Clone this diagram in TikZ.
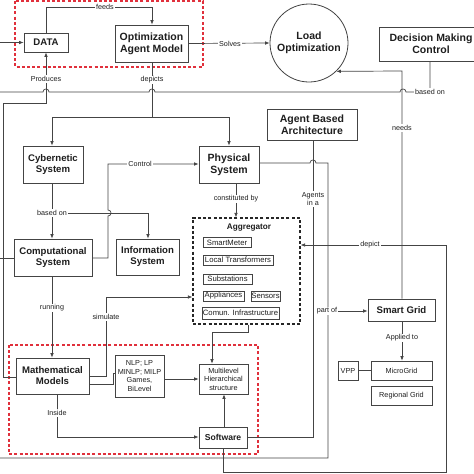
\documentclass[tikz,border=0pt]{standalone}
\usepackage{fontspec}
\setmainfont{Liberation Sans}
\usetikzlibrary{arrows.meta}
\definecolor{ln}{HTML}{444444}
\definecolor{tx}{HTML}{1E1E1E}
\definecolor{rd}{HTML}{E0303C}
\tikzset{
  bbox/.style={draw=ln, line width=0.8pt, fill=white, align=center, inner sep=0pt, text=tx,
    font=\bfseries\fontsize{9.6}{11}\selectfont},
  bigbox/.style={bbox, font=\bfseries\fontsize{10.5}{12}\selectfont},
  sbox/.style={draw=ln, line width=0.6pt, fill=white, align=center, inner sep=0pt, text=tx,
    font=\fontsize{7.3}{8.6}\selectfont},
  ibox/.style={draw=ln, line width=0.6pt, fill=white, inner sep=0pt, text=tx,
    font=\fontsize{7.7}{8.6}\selectfont, minimum height=10},
  conn/.style={draw=ln, line width=0.7pt},
  arr/.style={conn, -{Latex[length=4.5pt,width=3.6pt]}},
  lbl/.style={fill=white, inner sep=1pt, text=tx, align=center,
    font=\fontsize{7.2}{7.6}\selectfont},
  reddash/.style={draw=rd, line width=1.1pt, dash pattern=on 3pt off 2.2pt},
  aggdash/.style={draw=black!85, line width=1.1pt, dash pattern=on 3pt off 2.2pt},
}
\begin{document}
\begin{tikzpicture}[x=1pt,y=-1pt]
\useasboundingbox (0,0) rectangle (474,474);
\fill[white] (0,0) rectangle (474,474);

% red dashed groups
\draw[reddash] (15,1) rectangle (203,67);
\draw[reddash] (9,345) rectangle (258,454);

% nodes
\node[bbox, minimum width=44, minimum height=19] (data) at (46,42.5) {DATA};
\node[bigbox, minimum width=73, minimum height=37] (oam) at (151.5,43.5) {Optimization\\Agent Model};
\node[draw=ln, line width=0.8pt, circle, minimum size=78, inner sep=0pt, align=center, text=tx,
  font=\bfseries\fontsize{10.5}{12}\selectfont] (lo) at (309,43) {Load\\Optimization};
\node[bigbox, minimum width=104, minimum height=34] (dmc) at (431,44) {Decision Making\\Control};
\node[bbox, minimum width=60, minimum height=37] (cyb) at (53,164.5) {Cybernetic\\System};
\node[bigbox, minimum width=60, minimum height=37] (phys) at (229,164.5) {Physical\\System};
\node[bigbox, minimum width=90, minimum height=31] (aba) at (312,124.5) {Agent Based\\Architecture};
\node[bbox, minimum width=78, minimum height=37] (comp) at (53,257.5) {Computational\\System};
\node[bbox, minimum width=63, minimum height=36] (info) at (147.5,257) {Information\\System};
\node[aggdash, minimum width=107, minimum height=106, inner sep=0pt] (agg) at (246.5,271) {};
\node[text=tx, font=\bfseries\fontsize{8.2}{9}\selectfont] (aggt) at (249,227.5) {Aggregator};
\node[ibox, minimum width=48] (sm) at (227,242.5) {SmartMeter};
\node[ibox, minimum width=70] (lt) at (238,260) {Local Transformers};
\node[ibox, minimum width=49] (sub) at (227.5,279) {Substations};
\node[ibox, minimum width=41] (app) at (223.5,296) {Appliances};
\node[ibox, minimum width=29] (sen) at (265.5,296) {Sensors};
\node[ibox, minimum width=77, minimum height=12] (com) at (240.5,313) {Comun. Infrastructure};
\node[bbox, minimum width=73, minimum height=36] (mm) at (52.5,376) {Mathematical\\Models};
\node[sbox, minimum width=49, minimum height=42] (nlp) at (139.5,376) {NLP; LP\\MINLP; MILP\\Games,\\BiLevel};
\node[sbox, minimum width=49, minimum height=30] (ml) at (223.5,379) {Multilevel\\Hierarchical\\structure};
\node[bbox, minimum width=48, minimum height=21, font=\bfseries\fontsize{8.6}{10}\selectfont] (sw) at (223,437.5) {Software};
\node[bbox, minimum width=67, minimum height=22] (sg) at (401.5,310) {Smart Grid};
\node[sbox, minimum width=61, minimum height=19] (mg) at (401.5,370.5) {MicroGrid};
\node[sbox, minimum width=20, minimum height=19] (vpp) at (348,370.5) {VPP};
\node[sbox, minimum width=61, minimum height=19] (rg) at (401.5,395.5) {Regional Grid};

% free ends on the left border
\coordinate (inD) at (0,42.5);
\coordinate (inC) at (0,258);
\coordinate (outB) at (0,92);
\coordinate (outP) at (0,458);

% DATA in / feeds / solves
\draw[arr] (inD) -- (data.west);
\draw[arr] (data.north) -- (46,7) -- (152,7) -- (oam.north -| 152,0);
\node[lbl] at (105,7) {feeds};
\draw[arr] (oam.east) -- (lo.west);
\node[lbl] at (230,43.5) {Solves};

% based on (decision making) long line with hops (upward)
\draw[conn] (dmc.south -| 430,0) -- (430,92) -- (406,92) .. controls (406,88) and (400,88) .. (400,92)
  -- (155,92) .. controls (155,88) and (149,88) .. (149,92)
  -- (49,92) .. controls (49,88) and (43,88) .. (43,92) -- (outB);
\node[lbl] at (430,92) {based on};

% produces
\draw[arr] (mm.west |- 0,377) -- (3,377) -- (3,103) -- (46,103) -- (data.south);
\node[lbl] at (46,79) {Produces};

% computational in from left
\draw[conn] (inC) -- (comp.west |- inC);

% depicts
\draw[conn] (oam.south -| 152,0) -- (152,117);
\draw[arr] (52,117) -- (cyb.north -| 52,0);
\draw[arr] (52,117) -- (229,117) -- (phys.north);
\node[lbl] at (152,80) {depicts};

% needs
\draw[arr] (sg.north -| 402,0) -- (402,71) -- (lo.-46);
\node[lbl] at (402,128) {needs};

% cybernetic -> computational, information
\draw[arr] (cyb.south -| 52,0) -- (comp.north -| 52,0);
\draw[arr] (52,213) -- (148,213) -- (info.north -| 148,0);
\node[lbl] at (52,213) {based on};

% control (hop to the right)
\draw[arr] (comp.east |- 0,258) -- (108,258) -- (108,216) .. controls (112,216) and (112,210) .. (108,210)
  -- (108,164) -- (phys.west |- 0,164);
\node[lbl] at (140,164) {Control};

% constituted by
\draw[arr] (phys.south -| 236,0) -- (agg.north -| 236,0);
\node[lbl] at (236,199) {constituted by};

% physical -> part of (smart grid) and down-left
\draw[conn] (phys.east |- 0,163) -- (310,163) .. controls (310,159) and (316,159) .. (316,163)
  -- (328,163) -- (328,458) -- (outP);
\draw[arr] (328,311) -- (sg.west |- 0,311);
\node[lbl] at (327,311) {part of};

% software -> agent based architecture
\draw[conn] (sw.east |- 0,437) -- (313,437) -- (313,140);
\node[lbl, font=\fontsize{7.2}{8}\selectfont] at (313,199) {Agents\\in a};

% depict
\draw[arr] (sw.south -| 223,0) -- (223,472) -- (446,472) -- (446,245) -- (agg.east |- 0,245);
\node[lbl] at (370,245) {depict};

% running
\draw[arr] (comp.south -| 52,0) -- (mm.north -| 52,0);
\node[lbl] at (52,308) {running};

% simulate
\draw[arr] (mm.east |- 0,376) -- (106,376) -- (106,297) -- (agg.west |- 0,297);
\node[lbl] at (106,317) {simulate};

% MM -> NLP
\draw[conn] (mm.east |- 0,384) -- (113,384) -- (113,373) -- (nlp.west |- 0,373);
% NLP -> multilevel
\draw[arr] (nlp.east |- 0,379) -- (ml.west |- 0,379);
% aggregator -> multilevel
\draw[arr] (agg.south -| 248,0) -- (248,332) -- (212,332) -- (ml.north -| 212,0);
% software -> multilevel
\draw[arr] (sw.north -| 224,0) -- (ml.south -| 224,0);
% inside
\draw[arr] (mm.south -| 57,0) -- (57,437) -- (sw.west |- 0,437);
\node[lbl] at (57,413) {Inside};

% applied to
\draw[arr] (sg.south -| 402,0) -- (mg.north -| 402,0);
\node[lbl] at (402,338) {Applied to};
\draw[conn] (vpp.east) -- (mg.west);
\end{tikzpicture}
\end{document}
